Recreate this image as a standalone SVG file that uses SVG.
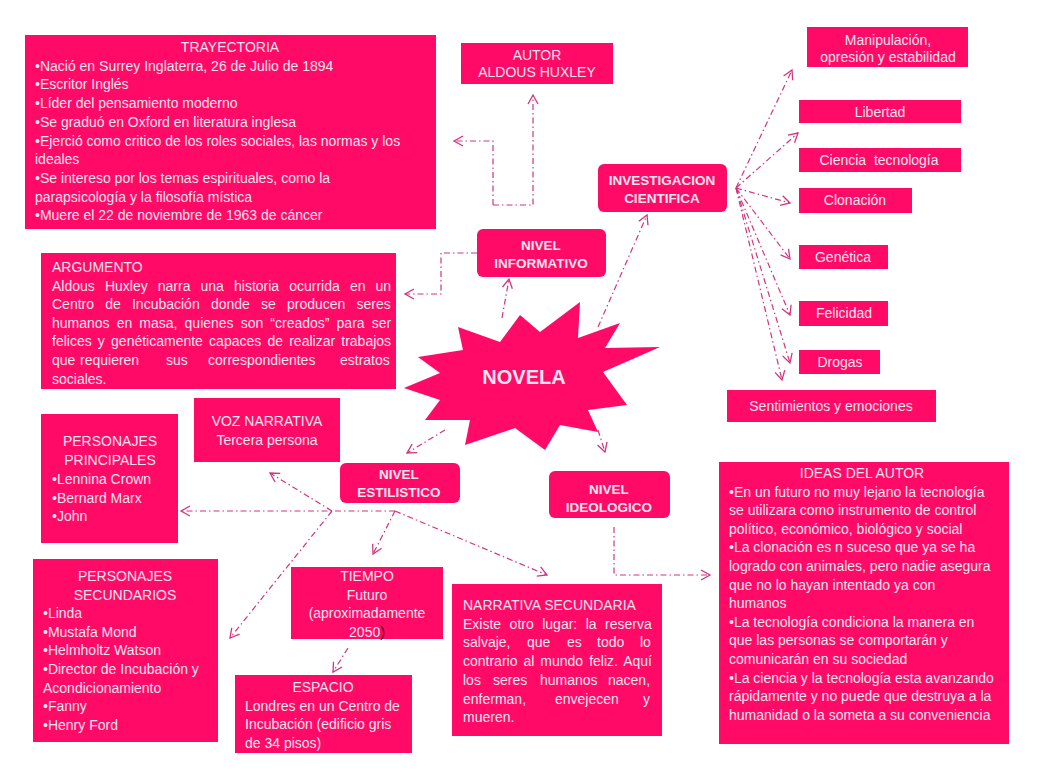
<svg xmlns="http://www.w3.org/2000/svg" width="1044" height="782" viewBox="0 0 1044 782">
<defs>
<style>
.box{fill:#FF0A66}
.t{font-family:"Liberation Sans",Arial,sans-serif;font-size:14px;fill:#FCE4EF}
.b{font-weight:bold;font-size:13.5px}
.c{text-anchor:middle}
.con{fill:none;stroke:#D2357E;stroke-width:1.2;stroke-dasharray:6 3 1.5 3}
.arr{marker-end:url(#ah)}
</style>
<marker id="ah" markerUnits="userSpaceOnUse" markerWidth="14" markerHeight="14" refX="10" refY="6" orient="auto" viewBox="0 0 14 12">
<path d="M1,1 L10,6 L1,11" fill="none" stroke="#D2357E" stroke-width="1.3"/>
</marker>
</defs>
<rect width="1044" height="782" fill="#FFFFFF"/>

<g id="connectors">
<path class="con arr" d="M502,318 L509,279"/>
<path class="con arr" d="M598,327 L647,215"/>
<path class="con arr" d="M477,253 L441,253 L441,294 L405,294"/>
<path class="con arr" d="M493,205 L533,205 L533,95"/>
<path class="con arr" d="M493,205 L493,141 L454,141"/>
<path class="con arr" d="M736,188 L792,70"/>
<path class="con arr" d="M736,188 L798,133"/>
<path class="con arr" d="M736,188 L790,203"/>
<path class="con arr" d="M736,188 L790,259"/>
<path class="con arr" d="M736,188 L790,315"/>
<path class="con arr" d="M736,188 L790,363"/>
<path class="con arr" d="M736,188 L782,380"/>
<path class="con arr" d="M445,430 L407,453"/>
<path class="con arr" d="M395,511 L181,511"/>
<path class="con arr" d="M332,511 L270,473"/>
<path class="con arr" d="M332,511 L230,638"/>
<path class="con arr" d="M395,511 L373,554"/>
<path class="con arr" d="M395,511 L547,575"/>
<path class="con arr" d="M348,648 L333,672"/>
<path class="con arr" d="M598,430 L605,452"/>
<path class="con arr" d="M614,527 L614,575 L710,575"/>
</g>

<g id="trayectoria">
<rect class="box" x="25" y="35" width="411" height="194"/>
<text class="t c" x="230" y="52">TRAYECTORIA</text>
<text class="t" x="35" y="70.7">•Nació en Surrey Inglaterra, 26 de Julio de 1894</text>
<text class="t" x="35" y="89.4">•Escritor Inglés</text>
<text class="t" x="35" y="108.1">•Líder del pensamiento moderno</text>
<text class="t" x="35" y="126.8">•Se graduó en Oxford en literatura inglesa</text>
<text class="t" x="35" y="145.5">•Ejerció como critico de los roles sociales, las normas y los</text>
<text class="t" x="35" y="164.2">ideales</text>
<text class="t" x="35" y="182.9">•Se intereso por los temas espirituales, como la</text>
<text class="t" x="35" y="201.6">parapsicología y la filosofía mística</text>
<text class="t" x="35" y="220.3">•Muere el 22 de noviembre de 1963 de cáncer</text>
</g>

<g id="autor">
<rect class="box" x="461" y="43" width="152" height="41"/>
<text class="t c" x="537" y="60">AUTOR</text>
<text class="t c" x="537" y="77">ALDOUS HUXLEY</text>
</g>

<g id="nivel-informativo">
<rect class="box" x="477" y="229" width="129" height="48" rx="6"/>
<text class="t b c" x="541" y="250">NIVEL</text>
<text class="t b c" x="541" y="268">INFORMATIVO</text>
</g>

<g id="investigacion">
<rect class="box" x="598" y="164" width="129" height="48" rx="6"/>
<text class="t b c" x="662" y="185">INVESTIGACION</text>
<text class="t b c" x="662" y="203">CIENTIFICA</text>
</g>

<g id="argumento">
<rect class="box" x="41" y="253" width="355" height="136"/>
<text class="t" x="52" y="272">ARGUMENTO</text>
<text class="t" x="52" y="290.6" style="word-spacing:6.2px">Aldous Huxley narra una historia ocurrida en un</text>
<text class="t" x="52" y="309.2" style="word-spacing:7.3px">Centro de Incubación donde se producen seres</text>
<text class="t" x="52" y="327.8" style="word-spacing:3.2px">humanos en masa, quienes son “creados” para ser</text>
<text class="t" x="52" y="346.4" style="word-spacing:2.3px">felices y genéticamente capaces de realizar trabajos</text>
<text class="t" y="365"><tspan x="52">que</tspan><tspan x="80">requieren</tspan><tspan x="166">sus</tspan><tspan x="208">correspondientes</tspan><tspan x="340">estratos</tspan></text>
<text class="t" x="52" y="383.6">sociales.</text>
</g>

<g id="novela">
<polygon class="box" points="404,388 440,373 418,357 463,350 458,327 500,342 520,315 540,332 580,302 578,338 620,323 605,348 660,347 603,372 627,405 588,410 598,432 560,425 545,450 515,428 465,445 470,420 425,420 440,400"/>
<text class="t c" x="524" y="384" style="font-size:20px;font-weight:bold">NOVELA</text>
</g>

<g id="manipulacion">
<rect class="box" x="807" y="27" width="161" height="40"/>
<text class="t c" x="888" y="45">Manipulación,</text>
<text class="t c" x="888" y="62">opresión y estabilidad</text>
</g>
<g id="libertad">
<rect class="box" x="799" y="100" width="162" height="23"/>
<text class="t c" x="880" y="117">Libertad</text>
</g>
<g id="ciencia">
<rect class="box" x="799" y="148" width="162" height="24"/>
<text class="t c" x="879" y="165">Ciencia&#160; tecnología</text>
</g>
<g id="clonacion">
<rect class="box" x="799" y="188" width="113" height="25"/>
<text class="t c" x="855" y="205">Clonación</text>
</g>
<g id="genetica">
<rect class="box" x="799" y="245" width="89" height="24"/>
<text class="t c" x="843" y="262">Genética</text>
</g>
<g id="felicidad">
<rect class="box" x="799" y="301" width="89" height="25"/>
<text class="t c" x="844" y="318">Felicidad</text>
</g>
<g id="drogas">
<rect class="box" x="799" y="350" width="81" height="24"/>
<text class="t c" x="840" y="367">Drogas</text>
</g>
<g id="sentimientos">
<rect class="box" x="727" y="390" width="209" height="32"/>
<text class="t c" x="831" y="411">Sentimientos y emociones</text>
</g>

<g id="voz-narrativa">
<rect class="box" x="194" y="398" width="146" height="64"/>
<text class="t c" x="267" y="426">VOZ NARRATIVA</text>
<text class="t c" x="267" y="445">Tercera persona</text>
</g>

<g id="personajes-principales">
<rect class="box" x="41" y="414" width="137" height="129"/>
<text class="t c" x="110" y="446">PERSONAJES</text>
<text class="t c" x="110" y="465">PRINCIPALES</text>
<text class="t" x="52" y="484">•Lennina Crown</text>
<text class="t" x="52" y="502.6">•Bernard Marx</text>
<text class="t" x="52" y="521.2">•John</text>
</g>

<g id="nivel-estilistico">
<rect class="box" x="340" y="463" width="120" height="40" rx="6"/>
<text class="t b c" x="399" y="479">NIVEL</text>
<text class="t b c" x="399" y="497">ESTILISTICO</text>
</g>

<g id="nivel-ideologico">
<rect class="box" x="549" y="471" width="121" height="47" rx="6"/>
<text class="t b c" x="609" y="494">NIVEL</text>
<text class="t b c" x="609" y="512">IDEOLOGICO</text>
</g>

<g id="personajes-secundarios">
<rect class="box" x="33" y="559" width="185" height="183"/>
<text class="t c" x="125" y="581">PERSONAJES</text>
<text class="t c" x="125" y="599.6">SECUNDARIOS</text>
<text class="t" x="43" y="618.2">•Linda</text>
<text class="t" x="43" y="636.8">•Mustafa Mond</text>
<text class="t" x="43" y="655.4">•Helmholtz Watson</text>
<text class="t" x="43" y="674">•Director de Incubación y</text>
<text class="t" x="43" y="692.6">Acondicionamiento</text>
<text class="t" x="43" y="711.2">•Fanny</text>
<text class="t" x="43" y="729.8">•Henry Ford</text>
</g>

<g id="tiempo">
<rect class="box" x="291" y="567" width="152" height="72"/>
<text class="t c" x="367" y="581">TIEMPO</text>
<text class="t c" x="367" y="599.6">Futuro</text>
<text class="t c" x="367" y="618.2">(aproximadamente</text>
<text class="t c" x="367" y="636.8">2050<tspan fill="#3A0018">)</tspan></text>
</g>

<g id="espacio">
<rect class="box" x="235" y="675" width="177" height="78"/>
<text class="t c" x="323" y="692">ESPACIO</text>
<text class="t" x="245" y="710.6">Londres en un Centro de</text>
<text class="t" x="245" y="729.2">Incubación (edificio gris</text>
<text class="t" x="245" y="747.8">de 34 pisos)</text>
</g>

<g id="narrativa-secundaria">
<rect class="box" x="452" y="584" width="210" height="152"/>
<text class="t" x="463" y="610">NARRATIVA SECUNDARIA</text>
<text class="t" x="463" y="628.7" style="word-spacing:4.6px">Existe otro lugar: la reserva</text>
<text class="t" y="647.4"><tspan x="463">salvaje,</tspan><tspan x="527">que</tspan><tspan x="567">es</tspan><tspan x="597">todo</tspan><tspan x="640">lo</tspan></text>
<text class="t" x="463" y="666.1" style="word-spacing:2.1px">contrario al mundo feliz. Aquí</text>
<text class="t" y="684.8"><tspan x="463">los</tspan><tspan x="493">seres</tspan><tspan x="540">humanos</tspan><tspan x="608">nacen,</tspan></text>
<text class="t" y="703.5"><tspan x="463">enferman,</tspan><tspan x="555">envejecen</tspan><tspan x="643">y</tspan></text>
<text class="t" x="463" y="722.2">mueren.</text>
</g>

<g id="ideas-del-autor">
<rect class="box" x="719" y="462" width="290" height="282"/>
<text class="t c" x="862" y="478">IDEAS DEL AUTOR</text>
<text class="t" x="729" y="496.6">•En un futuro no muy lejano la tecnología</text>
<text class="t" x="729" y="515.2">se utilizara como instrumento de control</text>
<text class="t" x="729" y="533.8">político, económico, biológico y social</text>
<text class="t" x="729" y="552.4">•La clonación es n suceso que ya se ha</text>
<text class="t" x="729" y="571">logrado con animales, pero nadie asegura</text>
<text class="t" x="729" y="589.6">que no lo hayan intentado ya con</text>
<text class="t" x="729" y="608.2">humanos</text>
<text class="t" x="729" y="626.8">•La tecnología condiciona la manera en</text>
<text class="t" x="729" y="645.4">que las personas se comportarán y</text>
<text class="t" x="729" y="664">comunicarán en su sociedad</text>
<text class="t" x="729" y="682.6">•La ciencia y la tecnología esta avanzando</text>
<text class="t" x="729" y="701.2">rápidamente y no puede que destruya a la</text>
<text class="t" x="729" y="719.8">humanidad o la someta a su conveniencia</text>
</g>
</svg>
